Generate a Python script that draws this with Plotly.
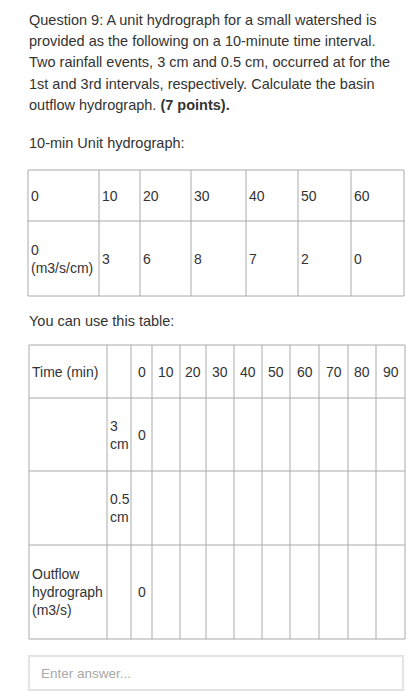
import plotly.graph_objects as go

# question text
question_lines = [
    "Question 9: A unit hydrograph for a small watershed is",
    "provided as the following on a 10-minute time interval.",
    "Two rainfall events, 3 cm and 0.5 cm, occurred at for the",
    "1st and 3rd intervals, respectively. Calculate the basin",
    "outflow hydrograph. <b>(7 points).</b>",
]
uh_title = "10-min Unit hydrograph:"
uh_times = ["0", "10", "20", "30", "40", "50", "60"]
uh_values = ["0<br>(m3/s/cm)", "3", "6", "8", "7", "2", "0"]
table_title = "You can use this table:"
tbl_times = ["0", "10", "20", "30", "40", "50", "60", "70", "80", "90"]
row_labels = ["Time (min)", "", "", "Outflow<br>hydrograph<br>(m3/s)"]
row_depths = ["", "3<br>cm", "0.5<br>cm", ""]
row_first = ["", "0", "", "0"]
placeholder = "Enter answer..."

# layout (pixels)
uh_cols = [20, 91, 132, 183, 238, 290, 343, 396]
uh_rows = [162, 213, 288]
t_cols = [21, 99, 123, 144, 172, 198, 226, 254, 282, 311, 340, 368, 397]
t_rows = [337, 390, 463, 537, 631]
txt = "#333333"
grid = "#aaaaaa"
font = "Liberation Sans"
cell_size = 14

fig = go.Figure()
fig.add_trace(go.Scatter(x=[0, 414], y=[0, 700], mode="markers",
                         marker=dict(opacity=0), showlegend=False, hoverinfo="skip"))

shapes = []
ann = []


def label(x, y, text, size=14.5, color=txt, xanchor="left"):
    ann.append(dict(x=x, y=y, text=text, showarrow=False, xanchor=xanchor,
                    yanchor="middle", align="left",
                    font=dict(family=font, size=size, color=color)))


def line(x0, y0, x1, y1, color=grid, w=1):
    shapes.append(dict(type="line", x0=x0, y0=y0, x1=x1, y1=y1,
                       line=dict(color=color, width=w)))


for i, t in enumerate(question_lines):
    label(19, 12 + i * 21.2, t)
label(19, 135, uh_title)
label(19, 313, table_title)

# unit hydrograph table
for x in uh_cols:
    line(x, uh_rows[0], x, uh_rows[-1])
for y in uh_rows:
    line(uh_cols[0], y, uh_cols[-1], y)
for i in range(7):
    x = uh_cols[i] + 1
    label(x, (uh_rows[0] + uh_rows[1]) / 2, uh_times[i], size=cell_size)
    label(x, (uh_rows[1] + uh_rows[2]) / 2, uh_values[i], size=cell_size)

# work table
for x in t_cols:
    line(x, t_rows[0], x, t_rows[-1])
for y in t_rows:
    line(t_cols[0], y, t_cols[-1], y)
for r in range(4):
    yc = (t_rows[r] + t_rows[r + 1]) / 2
    label(t_cols[0] + 1, yc, row_labels[r], size=cell_size)
    label(t_cols[1] + 1, yc, row_depths[r], size=cell_size)
    label((t_cols[2] + t_cols[3]) / 2, yc, row_first[r], size=cell_size, xanchor="center")
for i, t in enumerate(tbl_times):
    label((t_cols[i + 2] + t_cols[i + 3]) / 2, (t_rows[0] + t_rows[1]) / 2, t,
          size=cell_size, xanchor="center")

# answer box
shapes.append(dict(type="rect", x0=21, y0=648, x1=395, y1=682,
                   line=dict(color="#e3e3e3", width=2)))
label(31, 665, placeholder, size=13.5, color="#a8a8a8")

fig.update_layout(
    width=414, height=700,
    margin=dict(l=0, r=0, t=0, b=0),
    plot_bgcolor="white", paper_bgcolor="white",
    shapes=shapes, annotations=ann,
)
fig.update_xaxes(range=[0, 414], visible=False, fixedrange=True)
fig.update_yaxes(range=[700, 0], visible=False, fixedrange=True)

fig.write_html("out.html", config=dict(displayModeBar=False))
